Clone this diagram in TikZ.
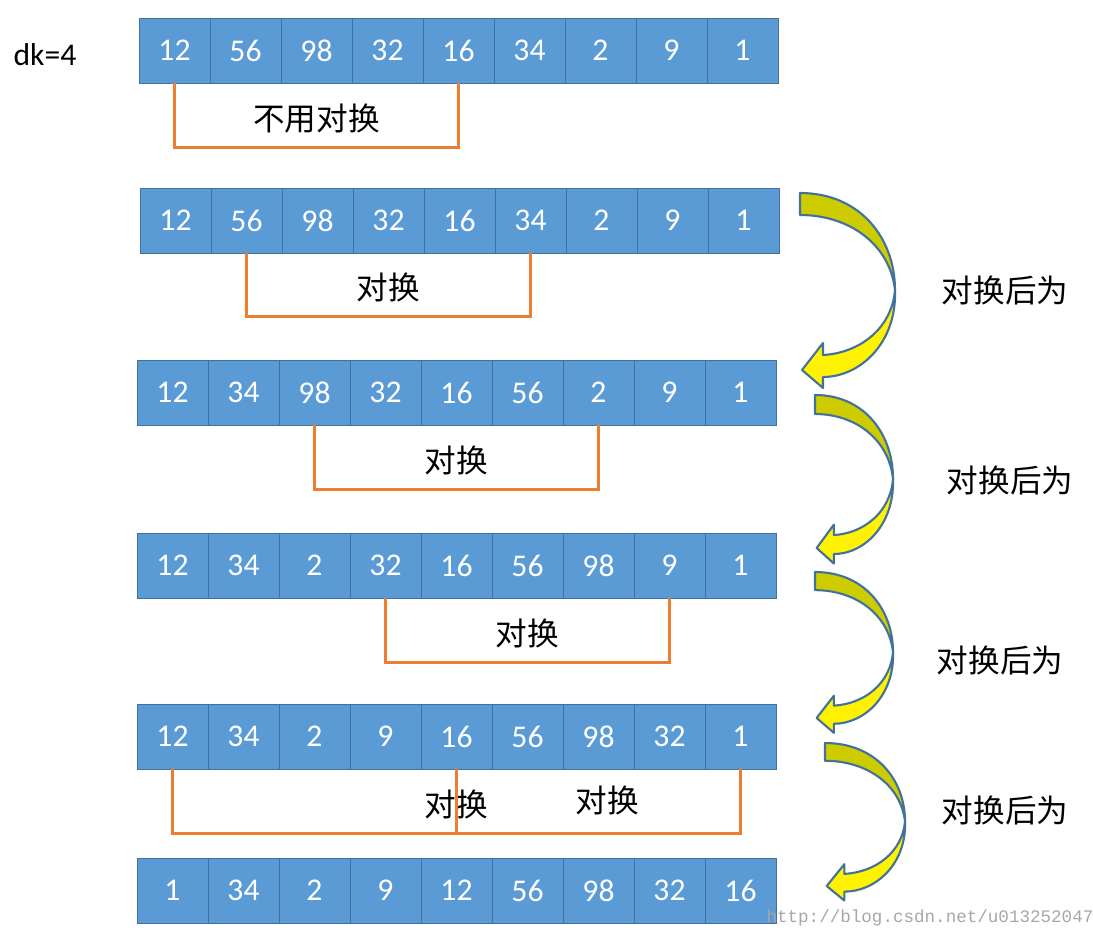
\documentclass[tikz,border=0pt]{standalone}
\usepackage{fontspec}
\setmainfont{Carlito}
\newfontfamily\cjk{Noto Sans CJK SC}
\newfontfamily\urlfont{Liberation Mono}
\usetikzlibrary{positioning}
\definecolor{cellblue}{RGB}{91,155,213}
\definecolor{celledge}{RGB}{65,113,156}
\definecolor{bracketorange}{RGB}{237,125,49}
\definecolor{olive}{RGB}{204,204,0}
\newcommand{\swaparrow}[4]{% x0, y0, width, height
  \begin{scope}[shift={(#1,#2)}, xscale=#3/95, yscale=#4/177, draw=celledge, line width=1.2pt, line join=round]
    \filldraw[fill=olive] (0,0) .. controls (60,0) and (95,45) .. (95,97)
        .. controls (90,52) and (50,22) .. (0,22) -- cycle;
    \filldraw[fill=yellow] (95,97) .. controls (97,150) and (60,184) .. (23,184)
        -- (23,195) -- (2,177) -- (23,150) -- (23,162)
        .. controls (60,160) and (92,135) .. (95,97);
  \end{scope}}
\begin{document}
\begin{tikzpicture}[x=0.02cm, y=-0.02cm,
    cell/.style={draw=celledge, fill=cellblue, text=white, minimum width=1.42cm,
        minimum height=1.3cm, inner sep=0pt, font=\fontsize{18}{20}\selectfont},
    bracket/.style={draw=bracketorange, line width=1.5pt},
    note/.style={font=\cjk\fontsize{18}{20}\selectfont},
]
    \useasboundingbox (0,0) rectangle (1093,939);

    \node[font=\fontsize{18}{20}\selectfont] (dk) at (45,55) {dk=4};

    % Rows of cells
    \foreach \r/\x/\y/\vals in {1/139/18/{12,56,98,32,16,34,2,9,1},
                                2/140/188/{12,56,98,32,16,34,2,9,1},
                                3/137/360/{12,34,98,32,16,56,2,9,1},
                                4/137/533/{12,34,2,32,16,56,98,9,1},
                                5/137/704/{12,34,2,9,16,56,98,32,1},
                                6/137/858/{1,34,2,9,12,56,98,32,16}}{
        \foreach \v [count=\c] in \vals
            \node[cell] (r\r c\c) at ({\x+35.5+71*(\c-1)},{\y+32.5}) {\v};
    }

    % Swap brackets
    \draw[bracket] (r1c1.south) -- ++(0,64) -| (r1c5.south)
        node[note, pos=0.25, above=4pt] (n1) {不用对换};
    \draw[bracket] (r2c2.south) -- ++(0,63) -| (r2c6.south)
        node[note, pos=0.25, above=4pt] (n2) {对换};
    \draw[bracket] (r3c3.south) -- ++(0,64) -| (r3c7.south)
        node[note, pos=0.25, above=4pt] (n3) {对换};
    \draw[bracket] (r4c4.south) -- ++(0,64) -| (r4c8.south)
        node[note, pos=0.25, above=4pt] (n4) {对换};
    \draw[bracket] (r5c1.south) -- ++(0,64) -| (r5c9.south)
        node[note, pos=0.25, above=4pt] (n5) {对换};
    \draw[bracket] (r5c5.south) -- ++(0,64);
    \node[note] (n6) at (607,800) {对换};

    % Curved arrows
    \swaparrow{800}{193}{95}{177}
    \swaparrow{815}{395}{78}{153}
    \swaparrow{815}{572}{78}{146}
    \swaparrow{825}{743}{80}{143}

    \node[note] (a1) at (1005,290) {对换后为};
    \node[note] (a2) at (1010,480) {对换后为};
    \node[note] (a3) at (1000,660) {对换后为};
    \node[note] (a4) at (1005,810) {对换后为};

    \node[text=black!35, font=\urlfont\fontsize{10}{12}\selectfont] (url) at (930,918) {http://blog.csdn.net/u013252047};
\end{tikzpicture}
\end{document}
